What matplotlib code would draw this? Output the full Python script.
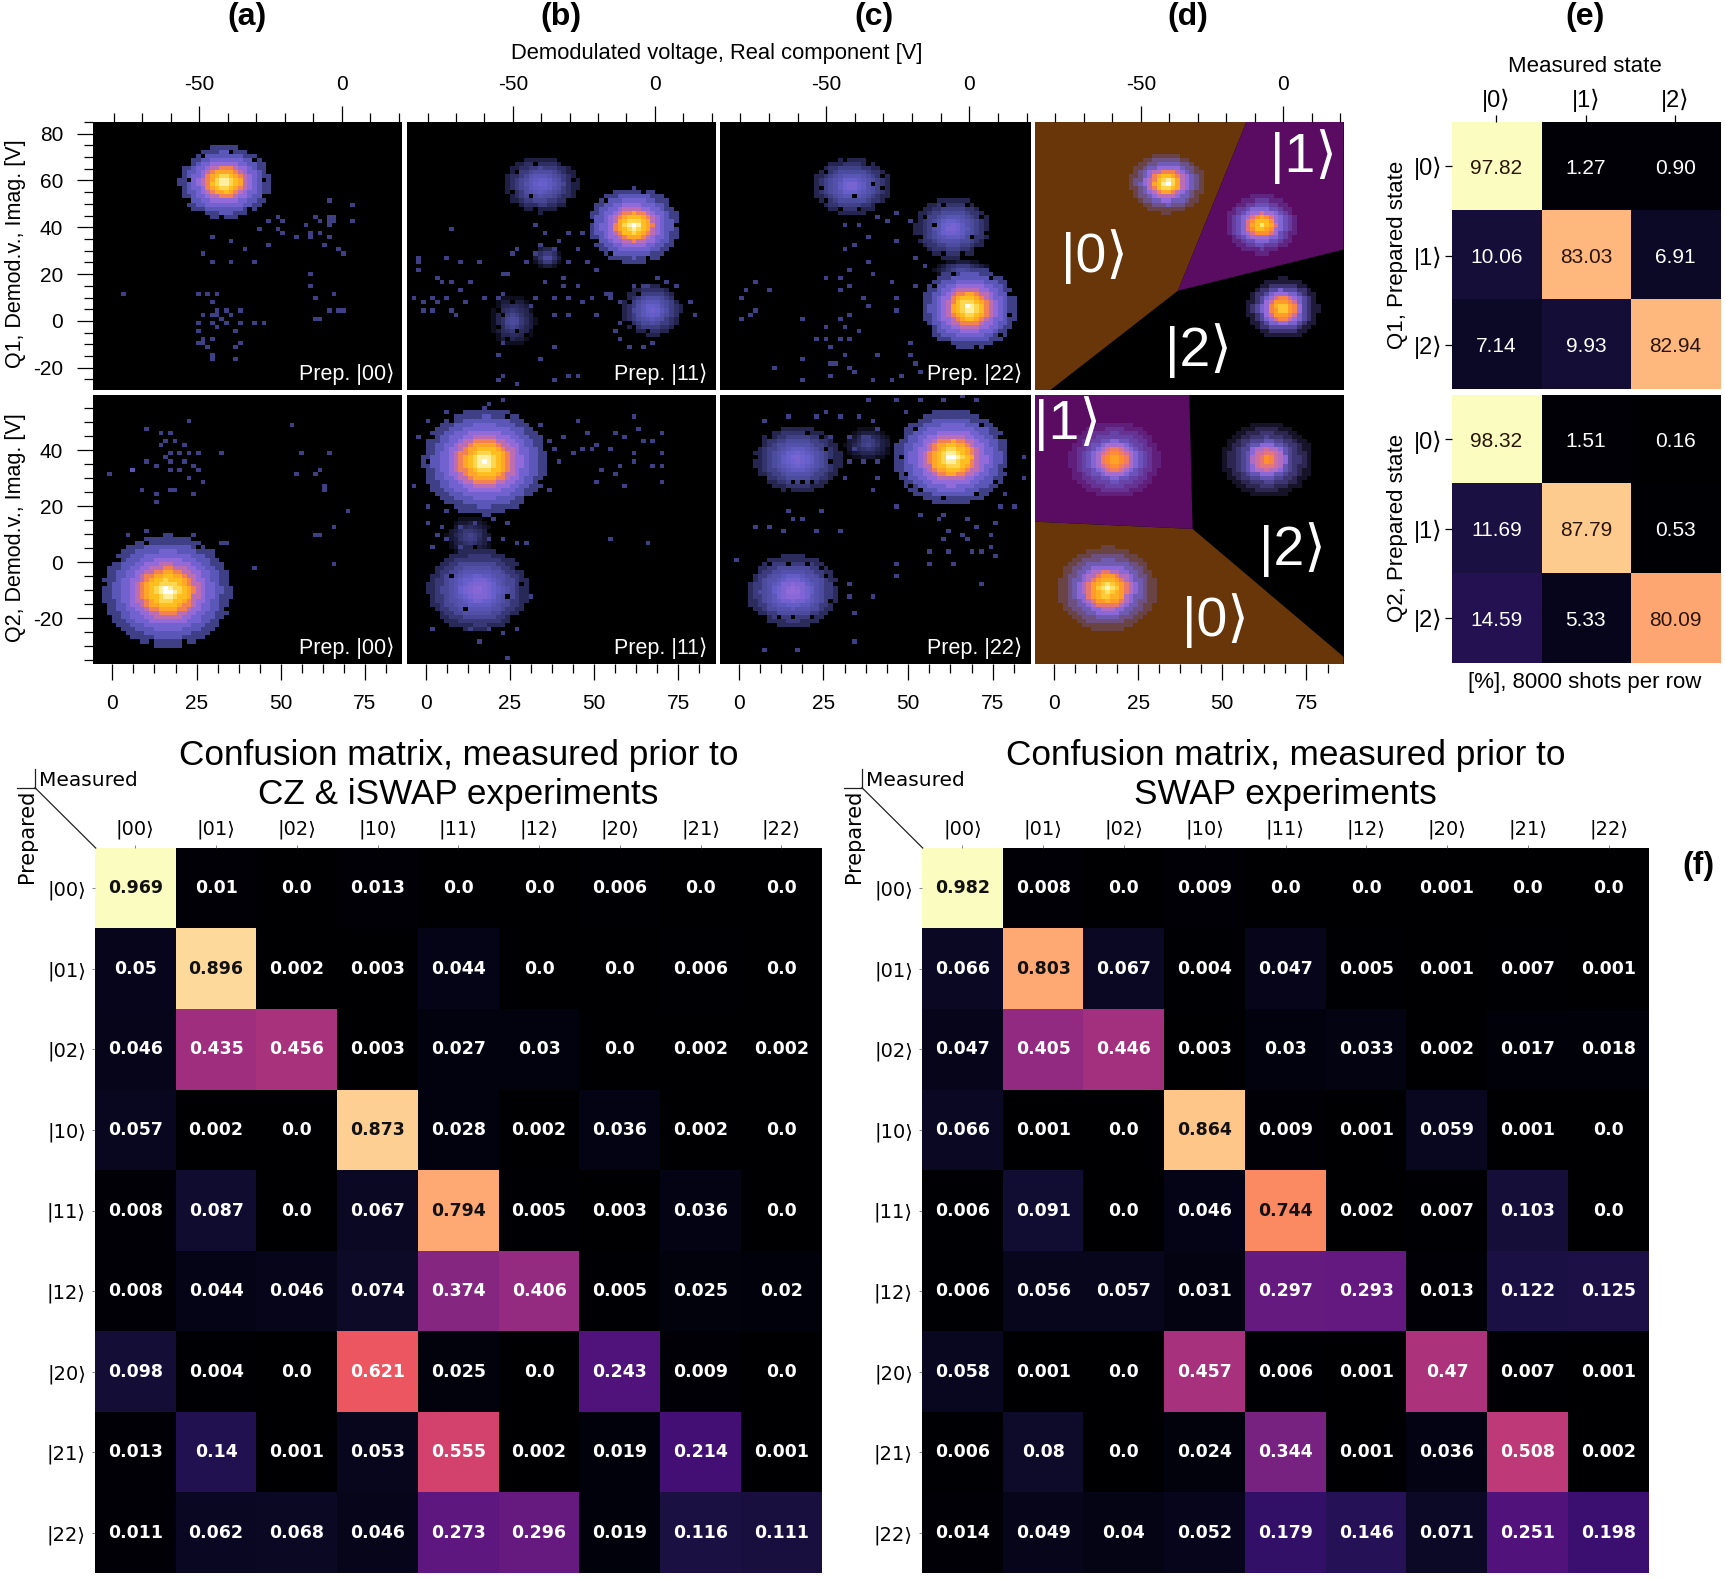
import numpy as np
import matplotlib
matplotlib.use('Agg')
import matplotlib.pyplot as plt
from matplotlib.colors import LinearSegmentedColormap
from matplotlib.lines import Line2D
from matplotlib.patches import Polygon
from matplotlib.ticker import MultipleLocator

plt.rcParams['font.family'] = ['Liberation Sans', 'DejaVu Sans']
plt.rcParams['axes.unicode_minus'] = False

W, H = 1725, 1580
BINS = 66

# readout limits, [V]
q1_xlim = (-87.3, 21.2)
q1_ylim = (-29.5, 85.1)
q2_xlim = (-5.7, 86.0)
q2_ylim = (-36.4, 59.9)

prep_labels = ['Prep. |00⟩', 'Prep. |11⟩', 'Prep. |22⟩']
ket_1q = ['|0⟩', '|1⟩', '|2⟩']
ket_2q = ['|00⟩', '|01⟩', '|02⟩', '|10⟩', '|11⟩', '|12⟩', '|20⟩', '|21⟩', '|22⟩']

# radial density of the shot clouds, outer radius = 1
ring_radii = [0.06, 0.12, 0.20, 0.28, 0.35, 0.42, 0.50, 0.60, 0.72, 0.85, 1.00]
bright_levels = [1.00, 0.93, 0.84, 0.76, 0.68, 0.56, 0.44, 0.36, 0.28, 0.20, 0.10]
faint_levels = [1.00, 0.98, 0.92, 0.85, 0.75, 0.65, 0.55, 0.45, 0.35, 0.25, 0.15]
stray_level = 0.10

# clouds as (x, y, x radius, y radius, peak)
q1_clouds_00 = [(-41, 59, 16, 15.5, 1.0)]
q1_clouds_11 = [(-7.7, 40.5, 16, 16, 1.0), (-40, 58, 13, 12, 0.26), (-1.3, 4.6, 10.5, 11, 0.27),
                (-50, 0, 8, 11, 0.13), (-38, 27, 5, 5, 0.14)]
q1_clouds_22 = [(-0.3, 5.4, 16.5, 17.5, 1.0), (-41.4, 57.3, 13.5, 12, 0.30), (-6.3, 39.5, 13, 13, 0.30),
                (-3, 22, 10, 4, 0.14)]
q2_clouds_00 = [(16.4, -10.4, 19, 20, 1.0)]
q2_clouds_11 = [(17.5, 35.8, 18.5, 19, 1.0), (15.4, -10, 15, 15, 0.34), (13, 9, 7, 7, 0.11)]
q2_clouds_22 = [(62.7, 37.2, 17, 17, 1.0), (17.2, 36.6, 13, 12, 0.30), (15.8, -10.3, 13.5, 13, 0.37),
                (38, 42, 7, 6, 0.11)]

# isolated shots, (x, y)
q1_stray_00 = [(-4.7, 50.9), (-8.7, 44.5), (-4.7, 44.5), (-3, 44.5), (-2.3, 42), (-7, 42.4), (-5, 42),
               (-12.7, 40.2), (-3.9, 40.2), (-8, 38), (-11, 38), (4.2, 43), (4.2, 48.8), (-10.3, 36),
               (-5.5, 32.4), (-4, 35), (1, 28.8), (-1, 31), (-23, 39), (-29, 39), (-20, 38), (-25, 33),
               (-39, 34), (-46, 35), (-49, 28), (-46, 26), (-31, 25), (-39, 26), (-34, 30), (-16, 36),
               (-22, 45), (-20, 42), (-26, 42), (-46, 7), (-45, 3), (-48, 2), (-46, 0), (-42, 1), (-40, 0),
               (-38, 2), (-36, 4), (-40, 5), (-44, -3), (-50, -5), (-49, -7), (-45, -8), (-51, -9), (-49, -10),
               (-47, -12), (-37, -12), (-37, -5), (-36, -1), (-36, -9), (-37, -17), (-51, -1), (-31, 0),
               (-28, 0), (-47, 12), (-51, 11), (-44, 12), (-77, 12), (-11, 20), (-11, 14), (-10, 9), (-7, 1),
               (-3, 12), (-4, 4), (-1, 4), (1, 4), (-9, 1), (-46, -14), (-46, -16), (-44, 4), (-43, 3)]
q1_stray_11 = [(-84, 27), (-84, 25), (-84, 22), (-74, 27), (-68, 25), (-61, 25), (-71, 39), (-77, 18), (-75, 16),
               (-72, 17), (-65, 17), (-68, 13), (-85, 10), (-82, 8), (-78, 10), (-76, 7), (-74, 9), (-72, 5),
               (-70, 2), (-82, 4), (-78, 5), (-67, 7), (-60, 10), (-56, 10), (-53, 12), (-50, 28), (-54, 20),
               (-52, 20), (-48, 30), (-45, 26), (-42, 28), (-36, 30), (-30, 26), (-27, 30), (-24, 25), (-20, 22),
               (-32, 18), (-38, 16), (-33, 14), (-28, 14), (-36, 10), (-30, 9), (-25, 8), (-22, 10), (-42, 10),
               (-44, 6), (-36, 3), (-30, 3), (-16, 9), (-15, 12), (-13, 7), (-12, 0), (-14, -5), (-12, -8),
               (-9, -12), (-4, -12), (-1, -10), (-30, -23), (-36, -12), (-40, -16), (-55, -15), (-53, -10),
               (-56, -26), (-54, -24), (-48, -27), (-36, -25), (-28, -24), (14, 3), (12, 8), (-42, 40), (-38, 37),
               (-30, 37), (-25, 38), (-34, 34), (-40, 32), (-18, 12), (-20, 3), (-8, 14), (-5, 15), (0, 19),
               (-2, 14), (4, 17), (8, 14)]
q1_stray_22 = [(-74.2, 16), (-70.1, 12.5), (-78.3, 12.5), (-80.6, 10.3), (-74.2, 4.6), (-76, 2.5), (-80, 0.4),
               (-57.8, 0.4), (-49.6, 18.2), (-45.5, 18.2), (-46.1, 13.9), (-42, 14.6), (-37.9, 10.3), (-35.6, 6.1),
               (-41.4, 2.5), (-49.6, -3.2), (-45.5, 0.4), (-43.8, -2.5), (-39.1, -3.9), (-53.7, -7.5), (-49.6, -8.2),
               (-46.1, -8.2), (-42, -7.5), (-48.5, -11.7), (-44.4, -13.9), (-31.5, -13.9), (-57.8, -16), (-49, -17.4),
               (-68.3, -19.6), (-46.7, -18.9), (-42.6, -19.6), (-39.7, -21.7), (-57.8, -25.3), (-48.5, -23.8),
               (-33.2, -25.3), (-27.4, -24.5), (-21.5, -10.3), (-21, -14.6), (-19.2, -18.1), (-23.9, -23.8),
               (-18, -21.7), (-25.6, 10.3), (-25.6, 4.6), (-18.6, 14.6), (-15.7, 23.9), (-19.2, 27.4), (-33.2, 20.3),
               (-27.4, 16), (-35.6, 26), (-41.4, 22.4), (-43.8, 30.3), (-39.7, 32.4), (-35.6, 36), (-43.8, 40.2),
               (-39.1, 40.2), (-25.6, 45.2), (-25.6, 34.5), (-21.5, 41.7), (-31.5, 43.8), (-28.6, 42.4)]
q2_stray_00 = [(23.2, 50.2), (10.9, 47.2), (14.3, 45.4), (17, 46), (16.4, 43.6), (18.4, 42.4), (15, 41.2), (21.8, 41.8),
               (32, 38.8), (25.2, 38.8), (23, 38.8), (19.5, 38.8), (17, 39.4), (15.4, 37.6), (17.7, 36.4), (21.1, 35.2),
               (24.5, 34), (10.2, 36.4), (13.6, 34.6), (6.8, 33.4), (5.5, 32.2), (-1.4, 30.8), (17.7, 32.8), (20.5, 32.2),
               (27.3, 29.2), (23.2, 30.4), (17.7, 26.2), (9.5, 25.6), (13, 23.8), (24.6, 23.8), (13.6, 20.8), (19, 25),
               (26, 33.4), (53.9, 48.8), (56.6, 38.8), (64.1, 38.8), (55.3, 30.8), (60, 30.8), (61.4, 32.4), (62.8, 27.4),
               (62.8, 25.6), (70.3, 17.6), (65.9, 12.8), (59.8, 9.4), (61.1, 9.4), (65.9, -0.5), (41.6, -2.3), (32, 6),
               (34.1, 6), (23.9, 9.4), (4.8, 9.4), (10.9, 10.6), (7.5, 7)]
q2_stray_11 = [(44.7, 50.2), (61.8, 52), (63.2, 48), (48.2, 46.6), (56.3, 46.6), (58.4, 44.4), (64.5, 43.6), (70.7, 46.6),
               (50.9, 41.8), (54.3, 40), (49.5, 40), (46.1, 40.4), (43.4, 38.8), (40.7, 44.2), (37.2, 43), (38.6, 40.6),
               (61.8, 38.2), (61.8, 35.2), (67.9, 42.4), (70.7, 38.8), (70.7, 34.6), (67.9, 34.6), (57, 34), (55.7, 31.6),
               (51.6, 32.8), (51, 28), (58.4, 27.4), (70.7, 29.2), (39, 35.8), (54.3, 8.6), (66.2, 6.7), (1, 20), (6.5, 17.8),
               (10, 17.8), (16.8, 17.8), (20.2, 16), (23.6, 14.2), (1, 14.2), (4.5, 12.4), (10, 13), (14, 13.6), (3.1, 9.4),
               (6.5, 8.2), (13.4, 9.4), (18.1, 7.6), (22.2, 8.2), (27, 7), (29.7, 6.4), (2.5, 4.6), (10, 4.6), (2.5, -23.6),
               (12.7, -23.6), (18.8, -23.6), (22.9, -25.4), (16.1, -29), (23.6, -34.4), (27, -23.6), (31, -12), (5.6, 53.8),
               (22.2, 57.4), (18.1, 55.6), (1, 50.2), (-1.6, 44.2), (-3.7, 27.4), (34.5, 48.4), (36.6, 26.2)]
q2_stray_22 = [(37.5, 57), (46.4, 57), (53.3, 57), (59.8, 57), (65.2, 58.8), (70.2, 57), (49.4, 53.4), (39, 51), (41, 48),
               (36, 44.4), (34, 40.8), (32.6, 35.4), (36, 35.4), (41.5, 35.4), (41.5, 30), (31.6, 30), (39.5, 26.3), (46.4, 20.3),
               (77.6, 20.3), (80.5, 20.3), (79, 23.9), (53.3, 16.7), (59.8, 16.7), (58.3, 14.9), (66.7, 14.9), (69.7, 13.1),
               (75.6, 14.3), (61.8, 11.3), (65.2, 9.5), (73.6, 9.5), (60.3, 7.7), (66.7, 7.7), (73.6, 5.9), (56.8, 4.1), (61.8, 4.1),
               (68.7, 4.1), (72.1, 3.5), (75.6, 2.3), (63.7, -0.1), (56.8, -1.3), (46.4, -1.3), (46.4, -4.9), (72.1, -8.5),
               (39.5, -12.7), (32.6, -12.7), (32.6, -8.5), (34.5, -18.1), (34, -28.9), (6.9, -30.8), (16.8, -30.8), (4.9, 13.1),
               (8.3, 13.1), (12.8, 11.3), (22.2, 11.3), (29.1, 11.3), (15.3, 14.9), (18.7, 14.9), (13.8, 18.5), (24.2, 18.5),
               (-0.6, 0.1), (84, 37.2), (84, 30), (7.9, 49.8), (14.3, 51.6), (22.2, 51.6), (29.1, 51.6), (25.6, 53.4), (35, 51.6),
               (27.1, 44.4), (32.1, 44.4), (38, 44.4)]

# empty bins on the rims of the clouds, (x, y)
q1_empty_00 = [(-54, 60), (-53, 52), (-49, 46), (-42, 44), (-33, 47), (-28, 53), (-27, 60), (-30, 68), (-38, 72),
               (-48, 71), (-53, 66)]
q1_empty_11 = [(-50, 54), (-48, 50), (-42, 48), (-34, 47), (-31, 52), (-29, 60), (-33, 66), (-42, 67), (-49, 64),
               (-44, 53), (-10, 0), (-9, 7), (-6, 12), (2, 14), (8, 10), (9, 3), (6, -4), (-3, -5), (-8, -3),
               (-56, -3), (-55, 5), (-50, 8), (-45, -6), (-44, 6), (-52, -8), (-48, -4), (-53, 2), (-22, 42),
               (-20, 34), (-15, 28), (-3, 27), (5, 31), (8, 40), (5, 50), (-5, 55), (-17, 52)]
q1_empty_22 = [(-52, 56), (-50, 51), (-45, 48), (-38, 47), (-32, 50), (-30, 56), (-31, 62), (-36, 67), (-44, 68),
               (-51, 64), (-40, 53), (-34, 58), (-17, 36), (-15, 31), (-10, 29), (-3, 29), (3, 31), (5, 37), (4, 44),
               (-1, 49), (-9, 50), (-16, 45), (-13, 41), (0, 36), (-14, -3), (-12, -8), (-7, -10), (3, -11), (11, -6),
               (13, 2), (14, 12), (8, 18), (-6, 20), (-13, 15)]
q2_empty_00 = [(-2, -20), (0, -27), (5, -29), (12, -29), (22, -28), (30, -25), (34, -16), (35, -7), (32, 2), (26, 5),
               (10, 6), (2, 1), (-2, -8)]
q2_empty_11 = [(3, -18), (5, -21), (10, -24), (20, -24), (26, -19), (29, -8), (27, -2), (22, 3), (6, 2), (2, -4),
               (8, -5), (24, -13), (11, -16), (8, 12), (18, 11), (14, 5), (0, 36), (1, 27), (4, 22), (10, 19),
               (24, 19), (30, 22), (34, 28), (35, 40), (32, 47), (24, 52), (8, 51), (2, 45)]
q2_empty_22 = [(5, 33), (8, 30), (14, 26), (16, 28), (19, 29), (22, 28), (26, 40), (27, 36), (9, 44), (6, 41), (24, 45),
               (28, 44), (20, 46), (5, 38), (4, -18), (7, -19), (11, -20), (16, -19), (22, -20), (26, -5), (24, -2),
               (28, -8), (5, -3), (3, -7), (9, -1), (15, 0), (20, 0), (27, -14), (48, 37), (49, 31), (51, 27), (54, 25),
               (60, 23), (70, 24), (76, 28), (79, 33), (77, 44), (72, 49), (52, 48), (48, 44)]

# single-shot calibration clouds on top of the discriminator regions
q1_calib_clouds = [(-41, 58.7, 13, 12.8, 1.0), (-7.7, 41, 12.5, 12.5, 0.9), (-0.3, 5.3, 12.5, 13, 0.85)]
q2_calib_clouds = [(17.9, 36.5, 13.5, 13.5, 0.72), (63.2, 36.5, 13.5, 13.5, 0.62), (15.8, -9.7, 14.5, 15, 0.95)]

# discriminator regions, vertices in volts
q1_region_0 = [(-87.3, 85.1), (-12.9, 85.1), (-37, 12.9), (-81.8, -29.5), (-87.3, -29.5)]
q1_region_1 = [(-12.9, 85.1), (21.2, 85.1), (21.2, 30.5), (-37, 12.9)]
q2_region_0 = [(-5.7, 14.5), (41.2, 11.9), (86, -33.8), (86, -36.4), (-5.7, -36.4)]
q2_region_1 = [(-5.7, 59.9), (40.2, 59.9), (41.2, 11.9), (-5.7, 14.5)]

# (e), percent
q1_single = [[97.82, 1.27, 0.90],
             [10.06, 83.03, 6.91],
             [7.14, 9.93, 82.94]]
q2_single = [[98.32, 1.51, 0.16],
             [11.69, 87.79, 0.53],
             [14.59, 5.33, 80.09]]

# (f)
confusion_cz = [[0.969, 0.01, 0.0, 0.013, 0.0, 0.0, 0.006, 0.0, 0.0],
                [0.05, 0.896, 0.002, 0.003, 0.044, 0.0, 0.0, 0.006, 0.0],
                [0.046, 0.435, 0.456, 0.003, 0.027, 0.03, 0.0, 0.002, 0.002],
                [0.057, 0.002, 0.0, 0.873, 0.028, 0.002, 0.036, 0.002, 0.0],
                [0.008, 0.087, 0.0, 0.067, 0.794, 0.005, 0.003, 0.036, 0.0],
                [0.008, 0.044, 0.046, 0.074, 0.374, 0.406, 0.005, 0.025, 0.02],
                [0.098, 0.004, 0.0, 0.621, 0.025, 0.0, 0.243, 0.009, 0.0],
                [0.013, 0.14, 0.001, 0.053, 0.555, 0.002, 0.019, 0.214, 0.001],
                [0.011, 0.062, 0.068, 0.046, 0.273, 0.296, 0.019, 0.116, 0.111]]
confusion_swap = [[0.982, 0.008, 0.0, 0.009, 0.0, 0.0, 0.001, 0.0, 0.0],
                  [0.066, 0.803, 0.067, 0.004, 0.047, 0.005, 0.001, 0.007, 0.001],
                  [0.047, 0.405, 0.446, 0.003, 0.03, 0.033, 0.002, 0.017, 0.018],
                  [0.066, 0.001, 0.0, 0.864, 0.009, 0.001, 0.059, 0.001, 0.0],
                  [0.006, 0.091, 0.0, 0.046, 0.744, 0.002, 0.007, 0.103, 0.0],
                  [0.006, 0.056, 0.057, 0.031, 0.297, 0.293, 0.013, 0.122, 0.125],
                  [0.058, 0.001, 0.0, 0.457, 0.006, 0.001, 0.47, 0.007, 0.001],
                  [0.006, 0.08, 0.0, 0.024, 0.344, 0.001, 0.036, 0.508, 0.002],
                  [0.014, 0.049, 0.04, 0.052, 0.179, 0.146, 0.071, 0.251, 0.198]]

shots_cmap = LinearSegmentedColormap.from_list('shots', [
    (0.00, '#000000'), (0.04, '#24244e'), (0.12, '#4a4a9a'), (0.25, '#6660cc'), (0.38, '#9a6cdc'),
    (0.50, '#e0708c'), (0.60, '#ff8c30'), (0.76, '#ffbe20'), (0.90, '#ffe870'), (1.00, '#ffffff')])


def px_axes(fig, left, top, right, bottom):
    return fig.add_axes([left / W, 1 - bottom / H, (right - left) / W, (bottom - top) / H])


def fig_text(fig, x, y, text, **kw):
    kw.setdefault('ha', 'center')
    kw.setdefault('va', 'center')
    fig.text(x / W, 1 - y / H, text, **kw)


def fig_line(fig, xs, ys):
    fig.add_artist(Line2D([x / W for x in xs], [1 - y / H for y in ys], color='#222222', lw=0.9))


def shot_density(clouds, stray, empty, xlim, ylim):
    x_edges = np.linspace(xlim[0], xlim[1], BINS + 1)
    y_edges = np.linspace(ylim[0], ylim[1], BINS + 1)
    xc = (x_edges[:-1] + x_edges[1:]) / 2
    yc = (y_edges[:-1] + y_edges[1:]) / 2
    xx, yy = np.meshgrid(xc, yc)
    grid = np.zeros_like(xx)
    for x0, y0, rx, ry, peak in clouds:
        r = np.hypot((xx - x0) / rx, (yy - y0) / ry)
        levels = bright_levels if peak > 0.5 else faint_levels
        idx = np.searchsorted(ring_radii, r)
        inside = idx < len(ring_radii)
        grid[inside] = np.maximum(grid[inside], peak * np.array(levels)[idx[inside]])
    if empty:
        xs, ys = zip(*empty)
        counts, _, _ = np.histogram2d(ys, xs, bins=[y_edges, x_edges])
        grid[counts > 0] = 0
    if stray:
        xs, ys = zip(*stray)
        counts, _, _ = np.histogram2d(ys, xs, bins=[y_edges, x_edges])
        grid = np.maximum(grid, counts * stray_level)
    return grid


def style_readout(ax, row, show_y):
    if row == 0:
        ax.set_xlim(*q1_xlim)
        ax.set_ylim(*q1_ylim)
        ax.xaxis.set_major_locator(MultipleLocator(50))
        ax.xaxis.set_minor_locator(MultipleLocator(10))
        ax.yaxis.set_major_locator(MultipleLocator(20))
        ax.tick_params(axis='x', which='both', top=True, bottom=False, labeltop=True, labelbottom=False)
    else:
        ax.set_xlim(*q2_xlim)
        ax.set_ylim(*q2_ylim)
        ax.xaxis.set_major_locator(MultipleLocator(25))
        ax.xaxis.set_minor_locator(MultipleLocator(6.25))
        ax.yaxis.set_major_locator(MultipleLocator(20))
    ax.yaxis.set_minor_locator(MultipleLocator(5))
    ax.tick_params(axis='both', which='major', length=11.5, width=0.9, pad=10, labelsize=15)
    ax.tick_params(axis='both', which='minor', length=6.5, width=0.9)
    if row == 0:
        ax.tick_params(axis='x', which='major', pad=8.5)
    if not show_y:
        ax.tick_params(axis='y', which='both', left=False, labelleft=False)
    for spine in ax.spines.values():
        spine.set_visible(False)
    ax.set_facecolor('black')


def draw_single_matrix(ax, values, show_top):
    arr = np.array(values)
    ax.imshow(arr, cmap='magma', vmin=0, vmax=arr.max(), aspect='auto')
    for i in range(3):
        for j in range(3):
            ax.text(j, i, f'{arr[i, j]:.2f}', ha='center', va='center_baseline', fontsize=15,
                    color='#2a1408' if arr[i, j] / arr.max() > 0.7 else 'white')
    ax.set_xticks(range(3), ket_1q, fontsize=17)
    ax.set_yticks(range(3), ket_1q, fontsize=17)
    ax.tick_params(axis='both', length=5, width=0.9, pad=2)
    ax.xaxis.tick_top()
    if not show_top:
        ax.tick_params(axis='x', top=False, labeltop=False)
    for spine in ax.spines.values():
        spine.set_visible(False)


def draw_confusion(ax, values, title):
    arr = np.array(values)
    ax.imshow(arr, cmap='magma', vmin=0, vmax=arr.max(), aspect='auto')
    for i in range(9):
        for j in range(9):
            ax.text(j, i, str(arr[i, j]), ha='center', va='center', fontsize=12.5, fontweight='bold',
                    family='DejaVu Sans', color='#111111' if arr[i, j] / arr.max() > 0.7 else 'white')
    ax.set_xticks(range(9), ket_2q, fontsize=14, family='DejaVu Sans')
    ax.set_yticks(range(9), ket_2q, fontsize=14, family='DejaVu Sans')
    ax.tick_params(axis='both', length=2.5, width=0.5, color='#555555', pad=4)
    ax.xaxis.tick_top()
    for spine in ax.spines.values():
        spine.set_visible(False)
    ax.set_title(title, fontsize=25.3, pad=32, linespacing=1.2)


fig = plt.figure(figsize=(W / 100, H / 100), dpi=100, facecolor='white')

col_edges = [(93.2, 402), (406.8, 715), (719.5, 1030), (1034.7, 1343.5)]
row_edges = [(121.7, 390), (394.7, 664)]
row_clouds = [[q1_clouds_00, q1_clouds_11, q1_clouds_22], [q2_clouds_00, q2_clouds_11, q2_clouds_22]]
row_stray = [[q1_stray_00, q1_stray_11, q1_stray_22], [q2_stray_00, q2_stray_11, q2_stray_22]]
row_empty = [[q1_empty_00, q1_empty_11, q1_empty_22], [q2_empty_00, q2_empty_11, q2_empty_22]]
row_limits = [(q1_xlim, q1_ylim), (q2_xlim, q2_ylim)]

# (a)-(c): readout histograms
for row, (top, bottom) in enumerate(row_edges):
    xlim, ylim = row_limits[row]
    for col in range(3):
        left, right = col_edges[col]
        ax = px_axes(fig, left, top, right, bottom)
        grid = shot_density(row_clouds[row][col], row_stray[row][col], row_empty[row][col], xlim, ylim)
        ax.imshow(grid, cmap=shots_cmap, vmin=0, vmax=1, origin='lower', aspect='auto',
                  extent=(*xlim, *ylim), interpolation='nearest')
        style_readout(ax, row, col == 0)
        ax.text(0.975, 0.018, prep_labels[col], transform=ax.transAxes, color='white', ha='right', va='bottom',
                fontsize=15.5)

# (d): calibration clouds and discriminator regions
region_brown = '#683608'
region_purple = '#5a0c62'
calib = [(q1_calib_clouds, q1_region_0, q1_region_1, [(7, 70), (-66.3, 27.4), (-29.6, -12.5)]),
         (q2_calib_clouds, q2_region_0, q2_region_1, [(4, 49.7), (70.7, 4.6), (48, -21)])]
for row, (clouds, reg0, reg1, ket_pos) in enumerate(calib):
    top, bottom = row_edges[row]
    left, right = col_edges[3]
    xlim, ylim = row_limits[row]
    ax = px_axes(fig, left, top, right, bottom)
    ax.add_patch(Polygon(reg0, closed=True, facecolor=region_brown, edgecolor='none', zorder=1))
    ax.add_patch(Polygon(reg1, closed=True, facecolor=region_purple, edgecolor='none', zorder=1))
    grid = shot_density(clouds, [], [], xlim, ylim)
    # low counts fade into the region colour instead of going dark
    rgba = shots_cmap(np.maximum(grid, 0.28))
    rgba[..., 3] = np.clip(grid * 3.2, 0, 1)
    ax.imshow(rgba, origin='lower', aspect='auto', extent=(*xlim, *ylim), interpolation='nearest', zorder=2)
    style_readout(ax, row, False)
    order = [1, 0, 2] if row == 0 else [1, 2, 0]
    for state, (kx, ky) in zip(order, ket_pos):
        ax.text(kx, ky, ket_1q[state], color='white', ha='center', va='center', fontsize=40, zorder=3)

# (e): single-qubit assignment matrices
ax_e1 = px_axes(fig, 1451.7, 121.7, 1720, 389.5)
draw_single_matrix(ax_e1, q1_single, True)
ax_e2 = px_axes(fig, 1451.7, 394.7, 1720, 663)
draw_single_matrix(ax_e2, q2_single, False)

# (f): two-qubit confusion matrices
ax_f1 = px_axes(fig, 95, 848, 821.7, 1573)
draw_confusion(ax_f1, confusion_cz, 'Confusion matrix, measured prior to\nCZ & iSWAP experiments')
ax_f2 = px_axes(fig, 922, 848, 1649, 1573)
draw_confusion(ax_f2, confusion_swap, 'Confusion matrix, measured prior to\nSWAP experiments')

for offset in (0, 827):
    fig_line(fig, [35 + offset, 95.7 + offset], [787.7, 848])
    fig_line(fig, [35 + offset, 35 + offset], [787.7, 769])
    fig_line(fig, [17 + offset, 35 + offset], [787.7, 787.7])
    fig_text(fig, 39 + offset, 780, 'Measured', fontsize=14.5, ha='left', family='DejaVu Sans')
    fig_text(fig, 27 + offset, 836, 'Prepared', fontsize=15, rotation=90, family='DejaVu Sans')

# shared labels
for x, label in zip([247, 561, 874, 1188, 1585], ['(a)', '(b)', '(c)', '(d)', '(e)']):
    fig_text(fig, x, 17, label, fontsize=23, fontweight='bold')
fig_text(fig, 1698, 866, '(f)', fontsize=23, fontweight='bold')
fig_text(fig, 717, 54, 'Demodulated voltage, Real component [V]', fontsize=15.8)
fig_text(fig, 15.5, 254, 'Q1, Demod.v., Imag. [V]', fontsize=15.5, rotation=90)
fig_text(fig, 15.5, 528, 'Q2, Demod.v., Imag. [V]', fontsize=15.5, rotation=90)
fig_text(fig, 1585, 67, 'Measured state', fontsize=16)
fig_text(fig, 1397, 255, 'Q1, Prepared state', fontsize=16, rotation=90)
fig_text(fig, 1397, 528, 'Q2, Prepared state', fontsize=16, rotation=90)
fig_text(fig, 1585, 682, '[%], 8000 shots per row', fontsize=16)

fig.savefig('out.png', dpi=100)
